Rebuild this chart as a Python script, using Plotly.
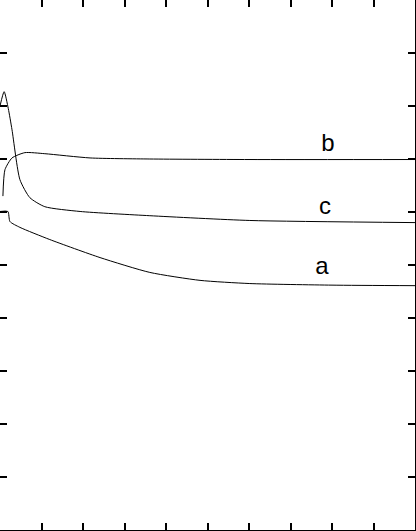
import plotly.graph_objects as go

# curve a
a_x = [0.0, 0.19, 0.24, 0.48, 1.2, 2.41, 3.61, 4.82, 6.02, 8.0, 10.0]
a_y = [6.01, 6.01, 5.82, 5.71, 5.48, 5.14, 4.86, 4.71, 4.65, 4.62, 4.61]
# curve b
b_x = [0.07, 0.12, 0.29, 0.6, 1.08, 2.17, 3.61, 6.0, 10.0]
b_y = [6.3, 6.8, 7.02, 7.12, 7.1, 7.02, 7.0, 6.99, 6.99]
# curve c
c_x = [0.0, 0.1, 0.2, 0.29, 0.48, 0.72, 1.08, 1.93, 3.61, 6.02, 10.0]
c_y = [8.0, 8.27, 7.95, 7.55, 6.61, 6.27, 6.10, 6.01, 5.93, 5.84, 5.80]

labels = ["b", "c", "a"]
label_x = [7.9, 7.83, 7.76]
label_y = [7.27, 6.08, 4.95]

fig = go.Figure()
for xs, ys in [(a_x, a_y), (b_x, b_y), (c_x, c_y)]:
    fig.add_trace(go.Scatter(x=xs, y=ys, mode="lines", line=dict(color="black", width=1, shape="spline", smoothing=0.6),
                             showlegend=False))
fig.add_trace(go.Scatter(x=label_x, y=label_y, mode="text", text=labels,
                         textfont=dict(size=24, family="Liberation Sans", color="black"), showlegend=False))

ax = dict(showgrid=False, zeroline=False, showticklabels=False, ticks="inside", mirror="ticks",
          showline=True, linecolor="black", linewidth=1, ticklen=7, tickcolor="black", tickwidth=1.5)
fig.update_xaxes(range=[0, 10], dtick=1, **ax)
fig.update_yaxes(range=[0, 10], dtick=1, **ax)
fig.update_layout(width=416, height=531, margin=dict(l=0, r=1, t=0, b=1),
                  plot_bgcolor="white", paper_bgcolor="white")
fig.write_html("out.html", config={"displayModeBar": False},
               post_script="document.body.style.margin='0';")
